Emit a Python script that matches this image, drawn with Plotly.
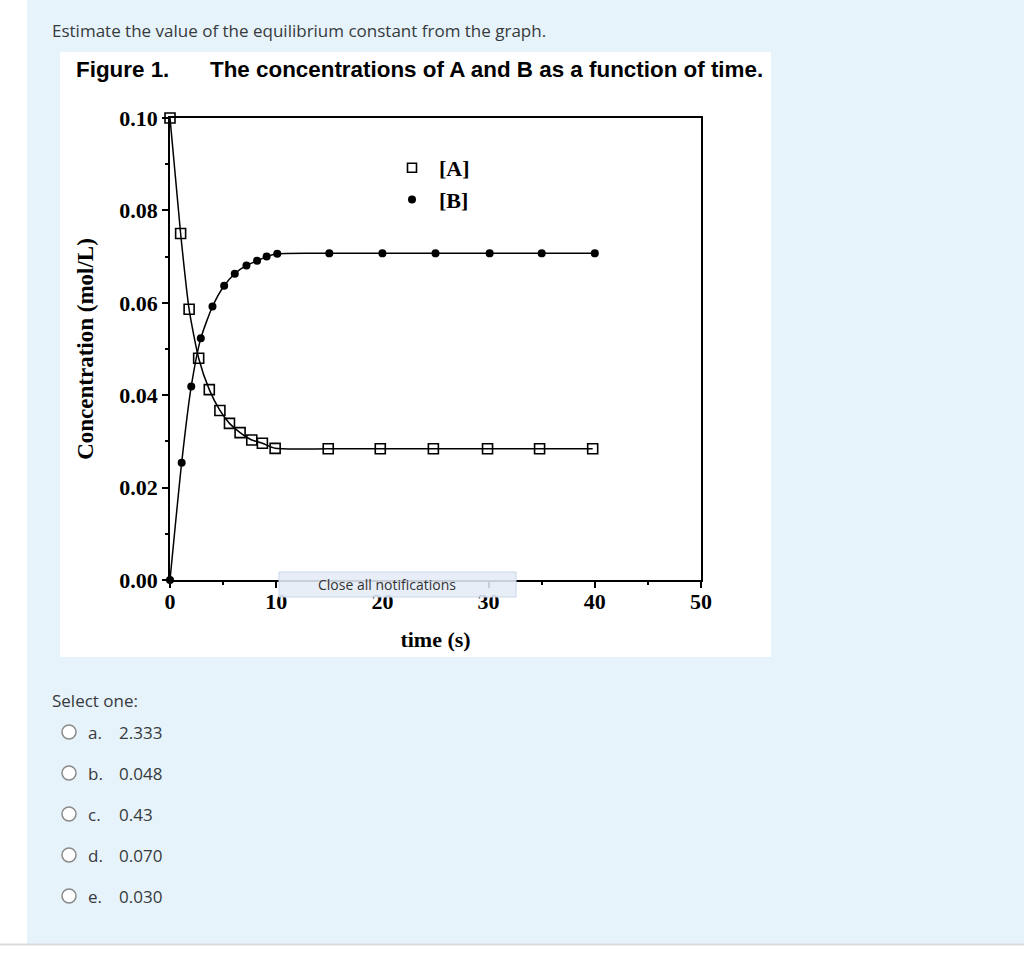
import plotly.graph_objects as go

# ---- data ----
time_A = [0, 1.0, 1.8, 2.7, 3.7, 4.7, 5.6, 6.6, 7.7, 8.7, 9.9, 14.9, 19.8, 24.8, 29.9, 34.8, 39.8]
conc_A = [0.100, 0.0750, 0.0586, 0.0480, 0.0412, 0.0367, 0.0339, 0.0319, 0.0303, 0.0296,
          0.0285, 0.0284, 0.0284, 0.0284, 0.0284, 0.0284, 0.0284]
time_B = [0, 1.1, 2.0, 2.9, 4.0, 5.1, 6.1, 7.2, 8.2, 9.1, 10.1, 15.0, 20.0, 25.0, 30.1, 35.0, 40.0]
conc_B = [0.0, 0.0254, 0.0419, 0.0523, 0.0592, 0.0637, 0.0663, 0.0681, 0.0691, 0.0700,
          0.0706, 0.0707, 0.0707, 0.0707, 0.0707, 0.0707, 0.0707]
series_names = ["[A]", "[B]"]
x_ticks = [0, 10, 20, 30, 40, 50]
y_ticks = [0.00, 0.02, 0.04, 0.06, 0.08, 0.10]
question = "Estimate the value of the equilibrium constant from the graph."
fig_label = "Figure 1."
fig_title = "The concentrations of A and B as a function of time."
option_letters = ["a.", "b.", "c.", "d.", "e."]
option_values = ["2.333", "0.048", "0.43", "0.070", "0.030"]

# ---- pixel geometry helpers ----
W_FIG, H_FIG = 1024, 953
L, R, T, B = 170, 701, 118, 580
PW, PH = R - L, B - T


def px(x):
    return (x - L) / PW


def py(y):
    return (B - y) / PH


SERIF = "Liberation Serif, Times New Roman, serif"
SANS = "Open Sans, Segoe UI, sans-serif"
TEXT = "#373a3c"

fig = go.Figure()
fig.add_trace(go.Scatter(
    x=time_A, y=conc_A, mode="lines+markers", name=series_names[0], showlegend=False,
    line=dict(color="black", width=1.5, shape="spline", smoothing=0.6),
    marker=dict(symbol="square-open", size=10, color="black", line=dict(width=1.6)),
    cliponaxis=False))
fig.add_trace(go.Scatter(
    x=time_B, y=conc_B, mode="lines+markers", name=series_names[1], showlegend=False,
    line=dict(color="black", width=1.5, shape="spline", smoothing=0.6),
    marker=dict(symbol="circle", size=8, color="black"),
    cliponaxis=False))
# legend-only entries (marker only, like the reference)
fig.add_trace(go.Scatter(x=[None], y=[None], mode="markers", name=series_names[0],
                         marker=dict(symbol="square-open", size=9, color="black", line=dict(width=1.6))))
fig.add_trace(go.Scatter(x=[None], y=[None], mode="markers", name=series_names[1],
                         marker=dict(symbol="circle", size=8, color="black")))

axis_font = dict(family=SERIF, size=22, color="black", weight="bold")

fig.update_xaxes(
    range=[0, 50], tickvals=x_ticks, ticktext=[str(v) for v in x_ticks],
    showline=True, linecolor="black", linewidth=1.6, mirror=True,
    ticks="outside", ticklen=6, tickwidth=1.5, tickcolor="black",
    minor=dict(dtick=5, ticks="outside", ticklen=3, tickwidth=1.5, tickcolor="black"),
    showgrid=False, zeroline=False, tickfont=axis_font, ticklabelstandoff=-5,
    title=dict(text="time (s)", font=axis_font, standoff=18),
)
fig.update_yaxes(
    range=[0, 0.10], tickvals=y_ticks, ticktext=[f"{v:.2f}" for v in y_ticks],
    showline=True, linecolor="black", linewidth=1.6, mirror=True,
    ticks="outside", ticklen=6, tickwidth=1.5, tickcolor="black",
    minor=dict(dtick=0.01, ticks="outside", ticklen=3, tickwidth=1.5, tickcolor="black"),
    showgrid=False, zeroline=False, tickfont=axis_font,
    title=dict(text="Concentration (mol/L)", font=dict(family=SERIF, size=23, color="black", weight="bold"),
               standoff=19),
)

shapes = [
    # white left strip and bottom strip of the page
    dict(type="rect", xref="paper", yref="paper", x0=px(0), x1=px(27), y0=py(0), y1=py(H_FIG),
         fillcolor="white", line=dict(width=0), layer="below"),
    dict(type="rect", xref="paper", yref="paper", x0=px(0), x1=px(W_FIG), y0=py(944), y1=py(H_FIG),
         fillcolor="white", line=dict(width=0), layer="below"),
    dict(type="line", xref="paper", yref="paper", x0=px(0), x1=px(W_FIG), y0=py(944.5), y1=py(944.5),
         line=dict(color="#dcdcdc", width=2), layer="below"),
    # white figure card
    dict(type="rect", xref="paper", yref="paper", x0=px(60), x1=px(771), y0=py(52), y1=py(657),
         fillcolor="white", line=dict(width=0), layer="below"),
    # notification overlay
    dict(type="rect", xref="paper", yref="paper", x0=px(279), x1=px(516), y0=py(572), y1=py(597),
         fillcolor="rgba(228,236,247,0.88)", line=dict(color="#c9d6ea", width=1), layer="above"),
]
for i in range(len(option_letters)):
    cy = 732 + 41 * i
    shapes.append(dict(type="circle", xref="paper", yref="paper",
                       x0=px(62), x1=px(76), y0=py(cy - 7), y1=py(cy + 7),
                       fillcolor="white", line=dict(color="#8a8a8a", width=1.5), layer="above"))

annotations = [
    dict(text=question, x=px(50), y=py(30), font=dict(family=SANS, size=17, color=TEXT)),
    dict(text=fig_label, x=px(74), y=py(70), font=dict(family="Liberation Sans, Arial", size=22.4, color="black", weight="bold")),
    dict(text=fig_title, x=px(208), y=py(70), font=dict(family="Liberation Sans, Arial", size=22.4, color="black", weight="bold")),
    dict(text="Close all notifications", x=px(316), y=py(584), font=dict(family=SANS, size=14, color="#333")),
    dict(text="Select one:", x=px(50), y=py(700), font=dict(family=SANS, size=17, color=TEXT)),
]
for i, (let, val) in enumerate(zip(option_letters, option_values)):
    cy = 732 + 41 * i
    annotations.append(dict(text=let, x=px(86), y=py(cy), font=dict(family=SANS, size=17, color=TEXT)))
    annotations.append(dict(text=val, x=px(117), y=py(cy), font=dict(family=SANS, size=17, color=TEXT)))
for a in annotations:
    a.update(xref="paper", yref="paper", xanchor="left", yanchor="middle", showarrow=False)

fig.update_layout(
    width=W_FIG, height=H_FIG,
    margin=dict(l=L, r=W_FIG - R, t=T, b=H_FIG - B, autoexpand=False),
    paper_bgcolor="#e6f3fb", plot_bgcolor="white",
    showlegend=True,
    legend=dict(x=px(385), y=py(147), xanchor="left", yanchor="top",
                bgcolor="rgba(0,0,0,0)", font=dict(family=SERIF, size=22, color="black", weight="bold"),
                itemwidth=44, tracegroupgap=0),
    shapes=shapes, annotations=annotations,
)

fig.write_html("out.html", config={"displayModeBar": False},
               post_script="document.body.style.margin='0';document.body.style.overflow='hidden';")
